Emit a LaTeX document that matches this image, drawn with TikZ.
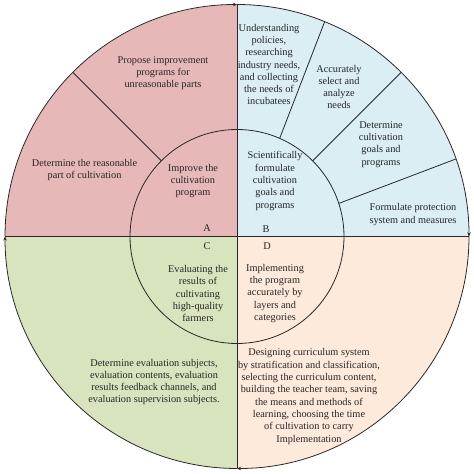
\documentclass[tikz,border=0pt]{standalone}
\usepackage{fontspec}
\setmainfont{Liberation Serif}
\usetikzlibrary{arrows.meta,calc}
\definecolor{colA}{RGB}{230,185,184}
\definecolor{colB}{RGB}{218,238,243}
\definecolor{colC}{RGB}{215,228,189}
\definecolor{colD}{RGB}{253,234,218}
\definecolor{lineC}{RGB}{40,40,40}
\begin{document}
\begin{tikzpicture}[x=1pt,y=1pt,
  txt/.style={align=center,inner sep=0pt,font=\fontsize{10.3}{12.3}\selectfont,text=black!85},
  ln/.style={draw=lineC,line width=0.8pt},
  arcarrow/.style={ln,-{Stealth[length=4pt,width=3.5pt]}}]
\useasboundingbox (0,0) rectangle (474,474);
\coordinate (c) at (237,237.5);
\def\R{232}
\def\r{107}
% sector fills
\fill[colA] (c) -- ++(90:\R) arc[start angle=90,end angle=180,radius=\R] -- cycle;
\fill[colB] (c) -- ++(0:\R) arc[start angle=0,end angle=90,radius=\R] -- cycle;
\fill[colC] (c) -- ++(180:\R) arc[start angle=180,end angle=270,radius=\R] -- cycle;
\fill[colD] (c) -- ++(270:\R) arc[start angle=270,end angle=360,radius=\R] -- cycle;
% outer arcs with arrows (clockwise)
\draw[arcarrow] ($(c)+(180:\R)$) arc[start angle=180,end angle=90,radius=\R];
\draw[arcarrow] ($(c)+(90:\R)$) arc[start angle=90,end angle=0,radius=\R];
\draw[arcarrow] ($(c)+(0:\R)$) arc[start angle=0,end angle=-90,radius=\R];
\draw[arcarrow] ($(c)+(-90:\R)$) arc[start angle=-90,end angle=-180,radius=\R];
% diameters
\coordinate (L) at ($(c)+(180:\R)$);
\coordinate (Rt) at ($(c)+(0:\R)$);
\coordinate (T) at ($(c)+(90:\R)$);
\coordinate (Bt) at ($(c)+(270:\R)$);
\draw[ln] (L) -- (Rt);
\draw[ln] (T) -- (Bt);
% inner circle
\draw[ln] (c) circle[radius=\r];
% dividers
\coordinate (a1i) at ($(c)+(135:\r)$);
\coordinate (a1o) at ($(c)+(135:\R)$);
\coordinate (b1i) at ($(c)+(66.5:\r)$);
\coordinate (b1o) at ($(c)+(67.8:\R)$);
\coordinate (b2i) at ($(c)+(45:\r)$);
\coordinate (b2o) at ($(c)+(45:\R)$);
\coordinate (b3i) at ($(c)+(18:\r)$);
\coordinate (b3o) at ($(c)+(19.5:\R)$);
\draw[ln] (a1i) -- (a1o);
\draw[ln] (b1i) -- (b1o);
\draw[ln] (b2i) -- (b2o);
\draw[ln] (b3i) -- (b3o);
% texts A
\node[txt] (a1) at (163,401) {Propose improvement\\programs for\\unreasonable parts};
\node[txt] (a2) at (84.5,304) {Determine the reasonable\\part of cultivation};
\node[txt] (ac) at (193,293) {Improve the\\cultivation\\program};
\node[txt] (al) at (207,246) {A};
% texts B
\node[txt] (b1) at (269,409.5) {Understanding\\policies,\\researching\\industry needs,\\and collecting\\the needs of\\incubatees};
\node[txt] (b2) at (339,387) {Accurately\\select and\\analyze\\needs};
\node[txt] (b3) at (381,329.5) {Determine\\cultivation\\goals and\\programs};
\node[txt] (b4) at (413,259.5) {Formulate protection\\system and measures};
\node[txt] (bc) at (275,293) {Scientifically\\formulate\\cultivation\\goals and\\programs};
\node[txt] (bl) at (266,245) {B};
% texts C
\node[txt] (cl) at (207,228) {C};
\node[txt] (cc) at (198,180.5) {Evaluating the\\results of\\cultivating\\high-quality\\farmers};
\node[txt] (c1) at (154,92) {Determine evaluation subjects,\\evaluation contents, evaluation\\results feedback channels, and\\evaluation supervision subjects.};
% texts D
\node[txt] (dl) at (267,228) {D};
\node[txt] (dc) at (275,180.5) {Implementing\\the program\\accurately by\\layers and\\categories};
\node[txt] (d1) at (309,77.5) {Designing curriculum system\\by stratification and classification,\\selecting the curriculum content,\\building the teacher team, saving\\the means and methods of\\learning, choosing the time\\of cultivation to carry\\Implementation};
\end{tikzpicture}
\end{document}
